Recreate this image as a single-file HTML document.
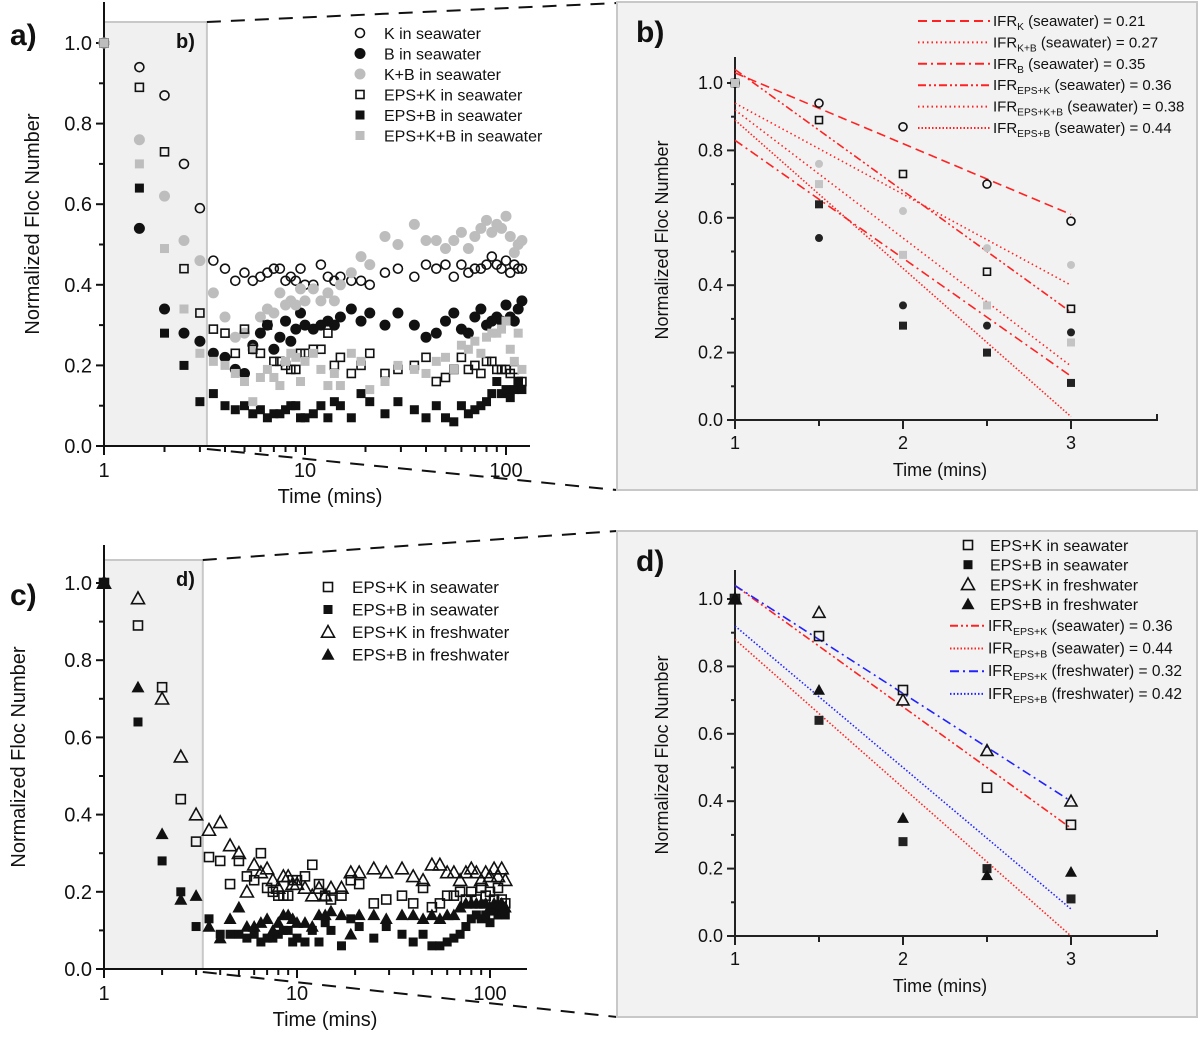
<!DOCTYPE html>
<html><head><meta charset="utf-8"><style>
html,body{margin:0;padding:0;background:#fff;}
svg{display:block;font-family:"Liberation Sans",Arial,sans-serif;}
</style></head><body>
<svg id="fig" width="1200" height="1050" viewBox="0 0 1200 1050" xmlns="http://www.w3.org/2000/svg"></svg>
<script>
// ---------- data ----------
const earlyTimes = [1, 1.5, 2, 2.5, 3];
const lateTimes = [3.5,4,4.5,5,5.5,6,6.5,7,7.5,8,8.5,9,9.5,10,11,12,13,14,15,17,19,21,25,29,35,40,45,50,55,60,65,70,75,80,85,90,95,100,105,110,115,120];
// panel a / b seawater series
const kEarly = [1.0,0.94,0.87,0.70,0.59];
const bEarly = [1.0,0.54,0.34,0.28,0.26];
const kbEarly = [1.0,0.76,0.62,0.51,0.46];
const epsKEarly = [1.0,0.89,0.73,0.44,0.33];
const epsBEarly = [1.0,0.64,0.28,0.20,0.11];
const epsKBEarly = [1.0,0.70,0.49,0.34,0.23];
const kLate = [0.46,0.44,0.41,0.43,0.41,0.42,0.43,0.44,0.44,0.41,0.42,0.41,0.44,0.40,0.40,0.45,0.42,0.41,0.42,0.41,0.41,0.40,0.43,0.44,0.42,0.45,0.44,0.45,0.42,0.45,0.43,0.44,0.44,0.45,0.47,0.45,0.44,0.46,0.43,0.45,0.44,0.44];
const bLate = [0.23,0.22,0.19,0.18,0.25,0.28,0.30,0.24,0.27,0.31,0.26,0.29,0.33,0.30,0.29,0.30,0.31,0.30,0.32,0.34,0.31,0.33,0.30,0.33,0.30,0.27,0.28,0.31,0.33,0.29,0.28,0.32,0.34,0.30,0.31,0.32,0.31,0.35,0.32,0.31,0.34,0.36];
const kbLate = [0.38,0.32,0.27,0.28,0.24,0.32,0.34,0.33,0.38,0.35,0.36,0.35,0.39,0.36,0.39,0.36,0.38,0.36,0.40,0.43,0.47,0.45,0.52,0.50,0.55,0.51,0.51,0.49,0.51,0.53,0.49,0.52,0.54,0.56,0.53,0.55,0.54,0.57,0.52,0.48,0.50,0.51];
const epsKLate = [0.29,0.28,0.23,0.29,0.24,0.23,0.30,0.21,0.21,0.20,0.19,0.19,0.23,0.23,0.24,0.24,0.28,0.20,0.22,0.18,0.20,0.23,0.18,0.19,0.20,0.22,0.16,0.17,0.19,0.22,0.19,0.20,0.18,0.21,0.21,0.19,0.19,0.19,0.18,0.19,0.16,0.16];
const epsBLate = [0.13,0.10,0.09,0.10,0.08,0.09,0.07,0.08,0.08,0.09,0.10,0.10,0.07,0.07,0.08,0.10,0.07,0.11,0.10,0.07,0.13,0.11,0.08,0.11,0.09,0.07,0.10,0.07,0.06,0.10,0.08,0.09,0.10,0.11,0.13,0.16,0.13,0.14,0.12,0.14,0.16,0.14];
const epsKBLate = [0.21,0.20,0.18,0.16,0.11,0.17,0.19,0.17,0.15,0.21,0.23,0.22,0.16,0.21,0.23,0.19,0.15,0.18,0.15,0.23,0.21,0.14,0.16,0.20,0.19,0.18,0.21,0.22,0.19,0.25,0.24,0.26,0.23,0.27,0.28,0.28,0.29,0.31,0.24,0.21,0.28,0.19];
// panel c / d
const cEpsKSeaEarly = [1.0,0.89,0.73,0.44,0.33];
const cEpsBSeaEarly = [1.0,0.64,0.28,0.20,0.11];
const cEpsKFreshEarly = [1.0,0.96,0.70,0.55,0.40];
const cEpsBFreshEarly = [1.0,0.73,0.35,0.18,0.19];
const cEpsKSeaLate = [0.29,0.28,0.22,0.28,0.24,0.23,0.30,0.21,0.20,0.19,0.19,0.19,0.23,0.23,0.24,0.27,0.22,0.19,0.18,0.19,0.23,0.22,0.17,0.18,0.19,0.17,0.21,0.16,0.17,0.19,0.19,0.20,0.18,0.20,0.18,0.21,0.19,0.20,0.18,0.21,0.18,0.17];
const cEpsBSeaLate = [0.13,0.09,0.09,0.09,0.08,0.09,0.07,0.08,0.08,0.09,0.10,0.10,0.07,0.08,0.07,0.10,0.07,0.12,0.10,0.06,0.13,0.11,0.08,0.11,0.09,0.07,0.09,0.06,0.06,0.07,0.08,0.09,0.11,0.13,0.14,0.13,0.14,0.12,0.15,0.14,0.15,0.14];
const cEpsKFreshLate = [0.36,0.38,0.32,0.30,0.20,0.27,0.25,0.26,0.23,0.21,0.24,0.24,0.22,0.22,0.21,0.19,0.21,0.19,0.21,0.21,0.25,0.25,0.26,0.25,0.26,0.24,0.23,0.27,0.27,0.25,0.25,0.23,0.25,0.26,0.25,0.23,0.25,0.24,0.26,0.24,0.26,0.23];
const cEpsBFreshLate = [0.11,0.08,0.13,0.16,0.11,0.11,0.12,0.13,0.10,0.12,0.14,0.14,0.13,0.12,0.12,0.11,0.14,0.14,0.15,0.14,0.09,0.14,0.14,0.13,0.14,0.14,0.13,0.14,0.13,0.14,0.14,0.16,0.17,0.17,0.17,0.17,0.17,0.16,0.17,0.17,0.17,0.16];
// fitted IFR lines: intercept at t=1 and slope (IFR)
const bFitNames = ["K","K+B","B","EPS+K","EPS+K+B","EPS+B"];
const bFitIntercepts = [1.03,0.94,0.83,1.04,0.92,0.89];
const bFitSlopes = [0.21,0.27,0.35,0.36,0.38,0.44];
const dFitIntercepts = [1.04,0.88,1.04,0.92];
const dFitSlopes = [0.36,0.44,0.32,0.42];
const linTicks = [1,2,3];
const yTicks = [0,0.2,0.4,0.6,0.8,1.0];

// ---------- helpers ----------
const NS="http://www.w3.org/2000/svg";
const svg=document.getElementById('fig');
function mk(tag,attrs,parent){const e=document.createElementNS(NS,tag);for(const k in attrs)e.setAttribute(k,attrs[k]);(parent||svg).appendChild(e);return e;}
function txt(s,x,y,size,anchor,parent,weight){const t=mk('text',{x:x,y:y,'font-size':size,'text-anchor':anchor||'start',fill:'#111'},parent);if(weight)t.setAttribute('font-weight',weight);t.textContent=s;return t;}

function marker(type,x,y,s,color,parent){
  let e;const h=s/2;
  if(type==='oc'){e=mk('circle',{cx:x,cy:y,r:h,fill:'none',stroke:'#111','stroke-width':1.6},parent);}
  else if(type==='fc'){e=mk('circle',{cx:x,cy:y,r:h,fill:color},parent);}
  else if(type==='os'){e=mk('rect',{x:x-h,y:y-h,width:s,height:s,fill:'none',stroke:'#111','stroke-width':1.6},parent);}
  else if(type==='fs'){e=mk('rect',{x:x-h,y:y-h,width:s,height:s,fill:color},parent);}
  else if(type==='ot'){e=mk('polygon',{points:`${x},${y-h} ${x+h},${y+h*0.8} ${x-h},${y+h*0.8}`,fill:'none',stroke:'#111','stroke-width':1.6},parent);}
  else {e=mk('polygon',{points:`${x},${y-h} ${x+h},${y+h*0.8} ${x-h},${y+h*0.8}`,fill:color},parent);}
  
  
  return e;
}

// ---------- log panels (a, c) ----------
function logPanel(o){
  const g=mk('g',{});
  
  
  const X=t=>o.x0+o.dec*Math.log10(t), Y=v=>o.y0-o.unit*v;
  const zb=mk('rect',{x:o.x0,y:o.boxTop,width:X(3.25)-o.x0,height:o.y0-o.boxTop,fill:'#f0f0f0',stroke:'#c8c8c8','stroke-width':2},g);
  
  
  const c1=mk('line',{x1:X(3.25),y1:o.boxTop,x2:617,y2:o.conTop,stroke:'#111','stroke-width':2,'stroke-dasharray':'14,10'},g);
  
  
  const c2=mk('line',{x1:X(3.25),y1:o.y0+3,x2:617,y2:o.conBot,stroke:'#111','stroke-width':2,'stroke-dasharray':'14,10'},g);
  
  
  const ax=mk('path',{d:`M${o.x0},${o.axTop} V${o.y0} H${o.xEnd}`,fill:'none',stroke:'#111','stroke-width':2},g);
  
  
  for(let v=0;v<=1.0001;v+=0.1){const maj=Math.round(v*10)%2===0;mk('line',{x1:o.x0-(maj?8:5),x2:o.x0,y1:Y(v),y2:Y(v),stroke:'#111','stroke-width':2},g);}
  yTicks.forEach(v=>{const t=txt(v.toFixed(1),o.x0-12,Y(v)+7,20,'end',g);});
  for(let d=1;d<=100;d*=10)for(let m=1;m<=9;m++){const t=d*m;const x=X(t);if(x>o.xEnd)continue;mk('line',{x1:x,x2:x,y1:o.y0,y2:o.y0+(m===1?9:6),stroke:'#111','stroke-width':2},g);}
  [1,10,100].forEach(t=>{const l=txt(String(t),X(t),o.y0+31,20,'middle',g);});
  const xt=txt('Time (mins)',o.xTitleX,o.y0+57,20,'middle',g);
  const yc=(o.y0+o.axTop)/2;
  const yt=txt('Normalized Floc Number',o.yTitleX,yc,20,'middle',g);yt.setAttribute('transform',`rotate(-90 ${o.yTitleX} ${yc})`);
  
  const pl=txt(o.label,10,o.labelY,30,'start',g,'bold');
  const il=txt(o.inner,176,o.boxTop+26,20,'start',g,'bold');
  o.series.forEach(s=>{
    const sg=mk('g',{},g);
    
    
    earlyTimes.forEach((t,i)=>marker(s.type,X(t),Y(s.early[i]),s.size,s.color,sg));
    lateTimes.forEach((t,i)=>marker(s.type,X(t),Y(s.late[i]),s.size,s.color,sg));
  });
  const lg=mk('g',{},g);
  
  
  o.series.forEach((s,i)=>{
    const y=o.legY+i*o.legDy;
    const le=mk('g',{},lg);
    
    
    marker(s.type,o.legX,y,s.size,s.color,le);
    txt(s.label,o.legX+24,y+6,o.legFont,'start',le);
  });
}

logPanel({name:'panel-a',x0:104,dec:201,y0:446,unit:403,xEnd:530,axTop:2,boxTop:22,conTop:3,conBot:490,xTitleX:330,yTitleX:39,label:'a)',labelY:45,inner:'b)',
  legX:360,legY:33,legDy:20.5,legFont:16,
  series:[
   {key:'k-seawater',label:'K in seawater',type:'oc',size:9,color:'#111',early:kEarly,late:kLate},
   {key:'b-seawater',label:'B in seawater',type:'fc',size:11,color:'#111',early:bEarly,late:bLate},
   {key:'kb-seawater',label:'K+B in seawater',type:'fc',size:11,color:'#bdbdbd',early:kbEarly,late:kbLate},
   {key:'eps-k-seawater',label:'EPS+K in seawater',type:'os',size:8,color:'#111',early:epsKEarly,late:epsKLate},
   {key:'eps-b-seawater',label:'EPS+B in seawater',type:'fs',size:9,color:'#111',early:epsBEarly,late:epsBLate},
   {key:'eps-kb-seawater',label:'EPS+K+B in seawater',type:'fs',size:9,color:'#bdbdbd',early:epsKBEarly,late:epsKBLate}
  ]});
logPanel({name:'panel-c',x0:104,dec:193,y0:969,unit:386,xEnd:527,axTop:545,boxTop:560,conTop:531,conBot:1017,xTitleX:325,yTitleX:25,label:'c)',labelY:605,inner:'d)',
  legX:328,legY:587,legDy:22.5,legFont:17,
  series:[
   {key:'eps-k-seawater',label:'EPS+K in seawater',type:'os',size:9,color:'#111',early:cEpsKSeaEarly,late:cEpsKSeaLate},
   {key:'eps-b-seawater',label:'EPS+B in seawater',type:'fs',size:9,color:'#111',early:cEpsBSeaEarly,late:cEpsBSeaLate},
   {key:'eps-k-freshwater',label:'EPS+K in freshwater',type:'ot',size:13,color:'#111',early:cEpsKFreshEarly,late:cEpsKFreshLate},
   {key:'eps-b-freshwater',label:'EPS+B in freshwater',type:'ft',size:13,color:'#111',early:cEpsBFreshEarly,late:cEpsBFreshLate}
  ]});

// ---------- linear panels (b, d) ----------
const RED='#f22', BLUE='#22f';
const DASH={dash:'9,5',dot:'1.5,3',dashdot:'9,4,2,4',dashdotdot:'8,3,2,3,2,3',dotdense:'1.5,2'};
function linPanel(o){
  const g=mk('g',{});
  
  
  const bx=mk('rect',{x:617,y:o.boxY,width:580,height:o.boxH,fill:'#f2f2f2',stroke:'#c8c8c8','stroke-width':2},g);
  
  
  const X=t=>735+168*(t-1), Y=v=>o.y0-337*v;
  const ax=mk('path',{d:`M735,${o.axTop} V${o.y0} H1157 v-6`,fill:'none',stroke:'#222','stroke-width':2},g);
  
  
  for(let v=0;v<=1.0001;v+=0.1){const maj=Math.round(v*10)%2===0;mk('line',{x1:maj?727:731,x2:735,y1:Y(v),y2:Y(v),stroke:'#222','stroke-width':2},g);}
  [1,1.5,2,2.5,3].forEach(t=>mk('line',{x1:X(t),x2:X(t),y1:o.y0,y2:o.y0+(Number.isInteger(t)?9:6),stroke:'#222','stroke-width':2},g));
  yTicks.forEach(v=>{const t=txt(v.toFixed(1),723,Y(v)+6,18,'end',g);});
  linTicks.forEach(t=>{const l=txt(String(t),X(t),o.y0+29,18,'middle',g);});
  const xt=txt('Time (mins)',940,o.y0+56,18,'middle',g);
  const yc=o.yTitleY;
  const yt=txt('Normalized Floc Number',668,yc,18,'middle',g);yt.setAttribute('transform',`rotate(-90 668 ${yc})`);
  
  const pl=txt(o.label,636,o.boxY+40,30,'start',g,'bold');
  o.fits.forEach(f=>{
    const l=mk('line',{x1:X(1),y1:Y(f.a),x2:X(3),y2:Y(f.a-2*f.s),stroke:f.color,'stroke-width':1.6,'stroke-dasharray':f.dash},g);
    
    
  });
  o.series.forEach(s=>{
    const sg=mk('g',{},g);
    
    
    earlyTimes.forEach((t,i)=>marker(s.type,X(t),Y(s.vals[i]),s.size,s.color,sg));
  });
  const lg=mk('g',{},g);
  
  
  let y=o.legY;
  (o.legMarkers||[]).forEach(s=>{
    const le=mk('g',{},lg);
    
    
    marker(s.type,968,y,s.type[1]==='t'?13:9,s.color,le);
    txt(s.label,990,y+6,16,'start',le);
    y+=19.7;
  });
  y+=o.lineGap||0;
  o.fits.forEach(f=>{
    const le=mk('g',{},lg);
    
    
    mk('line',{x1:o.lineX1,x2:o.lineX2,y1:y,y2:y,stroke:f.color,'stroke-width':2,'stroke-dasharray':f.dash},le);
    const t=mk('text',{x:o.lineX2+3,y:y+5,'font-size':o.legFont,fill:'#111'},le);
    t.appendChild(document.createTextNode('IFR'));
    const sub=mk('tspan',{dy:4,'font-size':o.legFont*0.68},t);sub.textContent=f.key;
    const rest=mk('tspan',{dy:-4},t);rest.textContent=' ('+f.water+') = '+f.s.toFixed(2);
    y+=o.legDy;
  });
}

const bDashes=[DASH.dash,DASH.dot,DASH.dashdot,DASH.dashdotdot,DASH.dot,DASH.dotdense];
linPanel({name:'panel-b',boxY:2,boxH:488,y0:420,axTop:57,yTitleY:240,label:'b)',legY:21,legDy:21.4,lineX1:918,lineX2:990,legFont:15,
  fits:bFitNames.map((n,i)=>({key:n,a:bFitIntercepts[i],s:bFitSlopes[i],color:RED,dash:bDashes[i],water:'seawater'})),
  series:[
   {key:'k-seawater',type:'oc',size:8,color:'#111',vals:kEarly},
   {key:'b-seawater',type:'fc',size:8,color:'#222',vals:bEarly},
   {key:'kb-seawater',type:'fc',size:8,color:'#c4c4c4',vals:kbEarly},
   {key:'eps-k-seawater',type:'os',size:7,color:'#111',vals:epsKEarly},
   {key:'eps-b-seawater',type:'fs',size:8,color:'#222',vals:epsBEarly},
   {key:'eps-kb-seawater',type:'fs',size:8,color:'#c4c4c4',vals:epsKBEarly}
  ]});
linPanel({name:'panel-d',boxY:531,boxH:486,y0:936,axTop:570,yTitleY:755,label:'d)',legY:545,legDy:22.7,lineGap:2,lineX1:950,lineX2:985,legFont:15.5,
  legMarkers:[
   {type:'os',color:'#111',label:'EPS+K in seawater'},
   {type:'fs',color:'#111',label:'EPS+B in seawater'},
   {type:'ot',color:'#111',label:'EPS+K in freshwater'},
   {type:'ft',color:'#111',label:'EPS+B in freshwater'}],
  fits:[
   {key:'EPS+K',a:dFitIntercepts[0],s:dFitSlopes[0],color:RED,dash:DASH.dashdotdot,water:'seawater'},
   {key:'EPS+B',a:dFitIntercepts[1],s:dFitSlopes[1],color:RED,dash:DASH.dotdense,water:'seawater'},
   {key:'EPS+K',a:dFitIntercepts[2],s:dFitSlopes[2],color:BLUE,dash:DASH.dashdot,water:'freshwater'},
   {key:'EPS+B',a:dFitIntercepts[3],s:dFitSlopes[3],color:BLUE,dash:DASH.dotdense,water:'freshwater'}],
  series:[
   {key:'eps-k-seawater',type:'os',size:9,color:'#111',vals:cEpsKSeaEarly},
   {key:'eps-b-seawater',type:'fs',size:9,color:'#222',vals:cEpsBSeaEarly},
   {key:'eps-k-freshwater',type:'ot',size:12,color:'#111',vals:cEpsKFreshEarly},
   {key:'eps-b-freshwater',type:'ft',size:12,color:'#111',vals:cEpsBFreshEarly}
  ]});
</script>
</body></html>
